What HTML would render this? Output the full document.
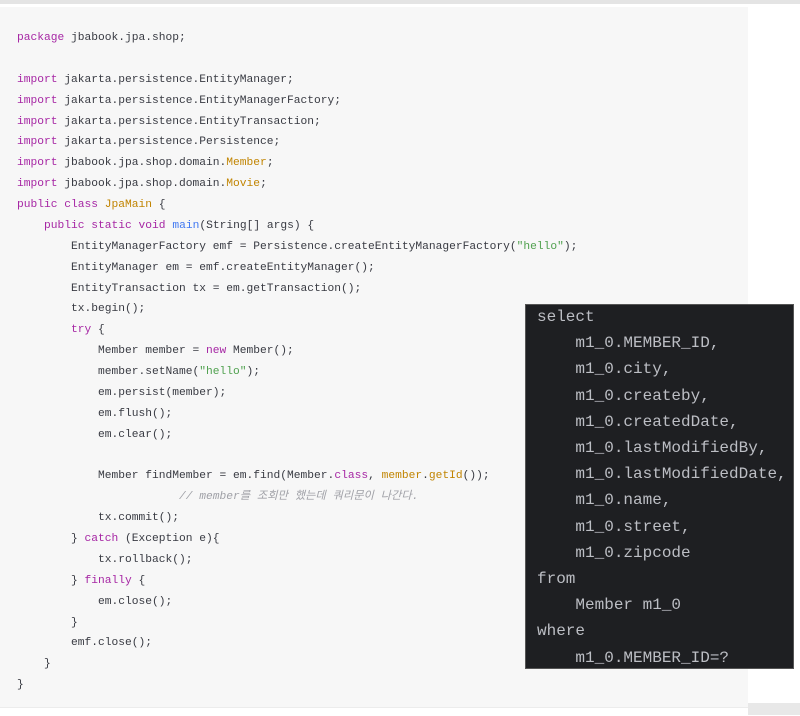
<!DOCTYPE html>
<html><head><meta charset="utf-8"><style>
body{margin:0;width:800px;height:715px;background:#fff;position:relative;overflow:hidden}
.top{position:absolute;left:0;top:0;width:800px;height:4px;background:#e4e4e4}
.code{position:absolute;left:0;top:7px;width:748px;height:700px;background:#f7f7f7}
.br{position:absolute;left:748px;top:703px;width:52px;height:12px;background:#e8e8e8}
.bb{position:absolute;left:0;top:707px;width:748px;height:8px;background:#fff;border-top:1px solid #ececec}
pre{margin:0;position:absolute;left:17px;top:26px;font-family:"Liberation Mono","Noto Sans CJK KR",monospace;font-size:11.25px;line-height:20.87px;color:#383a42}
.k{color:#a626a4}.s{color:#50a14f}.t{color:#c18401}.f{color:#4078f2}.c{color:#a0a1a7;font-style:italic}
.sql{position:absolute;left:525px;top:304px;width:267px;height:363px;background:#1e1f22;border:1px solid #555}
.sql pre{left:11px;top:-1px;font-size:16px;line-height:26.2px;color:#bcbec4}
</style></head><body>
<div class="top"></div><div class="code">
<pre style="top:21px"><span class="k">package</span> jbabook.jpa.shop;

<span class="k">import</span> jakarta.persistence.EntityManager;
<span class="k">import</span> jakarta.persistence.EntityManagerFactory;
<span class="k">import</span> jakarta.persistence.EntityTransaction;
<span class="k">import</span> jakarta.persistence.Persistence;
<span class="k">import</span> jbabook.jpa.shop.domain.<span class="t">Member</span>;
<span class="k">import</span> jbabook.jpa.shop.domain.<span class="t">Movie</span>;
<span class="k">public class</span> <span class="t">JpaMain</span> {
    <span class="k">public static void</span> <span class="f">main</span>(String[] args) {
        EntityManagerFactory emf = Persistence.createEntityManagerFactory(<span class="s">"hello"</span>);
        EntityManager em = emf.createEntityManager();
        EntityTransaction tx = em.getTransaction();
        tx.begin();
        <span class="k">try</span> {
            Member member = <span class="k">new</span> Member();
            member.setName(<span class="s">"hello"</span>);
            em.persist(member);
            em.flush();
            em.clear();

            Member findMember = em.find(Member.<span class="k">class</span>, <span class="t">member</span>.<span class="t">getId</span>());
                        <span class="c">// member를 조회만 했는데 쿼리문이 나간다.</span>
            tx.commit();
        } <span class="k">catch</span> (Exception e){
            tx.rollback();
        } <span class="k">finally</span> {
            em.close();
        }
        emf.close();
    }
}</pre></div>
<div class="br"></div><div class="bb"></div>
<div class="sql"><pre>select
    m1_0.MEMBER_ID,
    m1_0.city,
    m1_0.createby,
    m1_0.createdDate,
    m1_0.lastModifiedBy,
    m1_0.lastModifiedDate,
    m1_0.name,
    m1_0.street,
    m1_0.zipcode
from
    Member m1_0
where
    m1_0.MEMBER_ID=?</pre></div>
</body></html>
